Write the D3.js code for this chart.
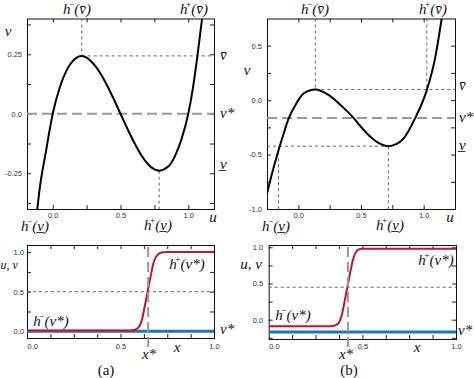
<!DOCTYPE html>
<html><head><meta charset="utf-8">
<script src="https://cdn.jsdelivr.net/npm/d3@7"></script>
<style>
body{margin:0;background:#fff}
svg{display:block}
</style></head>
<body><svg id="c" width="474" height="378"></svg>
<script>
// ---------------- data ----------------
// panel (a) top: nullcline v = f(u)
const aU = [-0.114,-0.1,-0.05,0,0.05,0.1,0.15,0.214,0.25,0.3,0.35,0.4,0.45,0.5,0.55,0.6,0.65,0.7,0.75,0.785,0.85,0.9,0.95,1.0,1.035,1.067,1.102];
const aV = [-0.40,-0.33,-0.158,0,0.107,0.18,0.223,0.243,0.236,0.21,0.171,0.12,0.062,0,-0.062,-0.12,-0.171,-0.21,-0.234,-0.239,-0.223,-0.18,-0.107,0,0.11,0.24,0.40];
// panel (b) top
const bU = [-0.25,-0.21,-0.162,-0.117,-0.077,-0.024,0.043,0.136,0.243,0.349,0.442,0.492,0.588,0.65,0.718,0.78,0.838,0.931,1.025,1.091,1.144];
const bV = [-0.858,-0.674,-0.476,-0.306,-0.168,-0.046,0.062,0.098,0.046,-0.058,-0.165,-0.235,-0.35,-0.40,-0.423,-0.405,-0.355,-0.168,0.092,0.384,0.752];
// panel (a) bottom: u profile and v*
const aProfX = [0,0.55,0.578,0.6,0.615,0.63,0.645,0.66,0.675,0.69,0.705,0.72,0.75,1];
const aProfU = [0.01,0.01,0.02,0.06,0.15,0.32,0.5,0.68,0.85,0.94,0.98,0.995,1.0,1.0];
const aStarX = [0,1], aStarV = [0,0];
// panel (b) bottom
const bProfX = [0,0.33,0.354,0.375,0.39,0.405,0.42,0.435,0.45,0.465,0.48,0.5,1];
const bProfU = [-0.09,-0.09,-0.08,-0.04,0.06,0.25,0.45,0.65,0.83,0.93,0.97,0.98,0.98];
const bStarX = [0,1], bStarV = [-0.17,-0.17];
// characteristic values
const aUMax = 0.214, aVBar = 0.243, aUMin = 0.785, aVUnder = -0.239, aVStar = 0;
const bUMax = 0.136, bVBar = 0.098, bUMin = 0.718, bVUnder = -0.423, bVStar = -0.163, bHmUnder = -0.158, bHpBar = 1.025;
const aXStar = 0.648, aMid = 0.5;
const bXStar = 0.423, bMid = 0.448;
// ticks
const taXT = [0,0.25,0.5,0.75,1], taXL = [0,0.5,1], taXLt = ["0.0","0.5","1.0"];
const taYT = [-0.375,-0.25,-0.125,0,0.125,0.25,0.375], taYL = [-0.25,0,0.25], taYLt = ["-0.25","0.0","0.25"];
const tbXT = [0,0.25,0.5,0.75,1], tbXL = [0,0.5,1], tbXLt = ["0.0","0.5","1.0"];
const tbYT = [-0.75,-0.5,-0.25,0,0.25,0.5], tbYL = [-1,-0.5,0,0.5], tbYLt = ["-1.0","-0.5","0.0","0.5"];
const baXT = [0.125,0.25,0.375,0.5,0.625,0.75,0.875], baXL = [0,0.5,1], baXLt = ["0.0","0.5","1.0"];
const baYT = [0,0.25,0.5,0.75,1], baYL = [0,0.5,1], baYLt = ["0.0","0.5","1.0"];
const bbXT = [0.125,0.25,0.375,0.5,0.625,0.75,0.875], bbXL = [0,0.5,1], bbXLt = ["0.0","0.5","1.0"];
const bbYT = [-0.25,0,0.25,0.5,0.75,1], bbYL = [0,0.5,1], bbYLt = ["0.0","0.5","1.0"];

// ---------------- drawing ----------------
const svg = d3.select("#c");
const RED = "#c41230", BLUE = "#1f74b6", DGREY = "#666";
const SERIF = "'Liberation Serif','DejaVu Serif','Times New Roman',serif";
let clipId = 0;

function panel(o){
  const g = svg.append("g");
  const x = d3.scaleLinear().domain(o.xd).range(o.xr);
  const y = d3.scaleLinear().domain(o.yd).range(o.yr);
  const [x0,x1] = o.xr, [y0,y1] = o.yr;
  const tk = 4;
  const mk = (ax, tr, vals) => {
    const a = g.append("g").attr("transform", tr).call(ax.tickValues(vals).tickSize(-tk).tickFormat(""));
    a.select(".domain").remove();
    a.selectAll("line").attr("stroke","#222");
  };
  mk(d3.axisBottom(x), `translate(0,${y0})`, o.xt);
  mk(d3.axisTop(x), `translate(0,${y1})`, o.xt);
  mk(d3.axisLeft(y), `translate(${x0},0)`, o.yt);
  mk(d3.axisRight(y), `translate(${x1},0)`, o.yt);
  const lab = (ax, tr, vals, texts, pad) => {
    const a = g.append("g").attr("transform", tr)
      .call(ax.tickValues(vals).tickSize(0).tickPadding(pad).tickFormat((d,i)=>texts[i]));
    a.select(".domain").remove();
    a.attr("font-family","'Liberation Sans',Arial,sans-serif").attr("font-size",7.5);
    a.selectAll("text").attr("fill","#333");
    return a;
  };
  const xa = lab(d3.axisBottom(x), `translate(0,${y0})`, o.xl, o.xlt, o.xpad);
  if (o.firstStart) xa.selectAll("text").filter((d,i)=>i===0).attr("text-anchor","start");
  lab(d3.axisLeft(y), `translate(${x0},0)`, o.yl, o.ylt, o.ypad);
  g.append("rect").attr("x",x0+0.5).attr("y",y1+0.5).attr("width",x1-x0).attr("height",y0-y1)
    .attr("fill","none").attr("stroke","#111").attr("stroke-width",1);
  const id = "clip"+(clipId++);
  g.append("clipPath").attr("id",id).append("rect").attr("x",x0).attr("y",y1).attr("width",x1-x0).attr("height",y0-y1);
  const plot = g.append("g").attr("clip-path",`url(#${id})`);
  return {g, plot, x, y};
}

function dash(g, x1, y1, x2, y2, long){
  g.append("line").attr("x1",x1).attr("y1",y1).attr("x2",x2).attr("y2",y2)
    .attr("stroke", long ? "#999" : DGREY)
    .attr("stroke-width", long ? 2 : 1)
    .attr("stroke-dasharray", long ? "10,5" : "3,3");
}

function curve(g, xs, ys, sx, sy, color, w){
  const pts = xs.map((d,i)=>[d, ys[i]]);
  g.append("path").datum(pts)
    .attr("d", d3.line().x(d=>sx(d[0])).y(d=>sy(d[1])).curve(d3.curveMonotoneX))
    .attr("fill","none").attr("stroke",color).attr("stroke-width",w).attr("stroke-linejoin","round");
}

function mlabel(x, y, parts, anchor, size){
  size = size || 15;
  const t = svg.append("text").attr("x",x).attr("y",y)
    .attr("font-family",SERIF).attr("font-style","italic").attr("fill","#111")
    .attr("text-anchor",anchor||"middle").attr("font-size",size);
  parts.forEach(p=>{
    const ts = t.append("tspan").text(p.t);
    if (p.sup) ts.attr("dy",-6).attr("dx",p.dx||0).attr("font-size",size*0.62).attr("font-style","normal");
    if (p.dy) ts.attr("dy",p.dy);
    if (p.up) ts.attr("font-style","normal");
  });
  return t;
}
const VBAR = "v\u0304", VUND = "v\u0332";
function hLab(x, y, sign, arg, anchor){
  return mlabel(x, y, [{t:"h"},{t:sign,sup:1,dx:-1.5},{t:"("+arg+")",dy:6}], anchor);
}

// ---- (a) top ----
{
  const P = panel({xd:[-0.19,1.19], xr:[27,214], yd:[-0.4,0.4], yr:[209,18.5],
    xt:taXT, xl:taXL, xlt:taXLt, yt:taYT, yl:taYL, ylt:taYLt, xpad:4, ypad:5});
  const {plot,x,y} = P;
  dash(plot, x.range()[0], y(aVStar), x.range()[1], y(aVStar), true);
  dash(plot, x(aUMax), y.range()[1], x(aUMax), y(aVBar));
  dash(plot, x(aUMax), y(aVBar), x.range()[1], y(aVBar));
  dash(plot, x(aUMin), y(aVUnder), x(aUMin), y.range()[0]);
  curve(plot, aU, aV, x, y, "#000", 2);
  hLab(77, 14, "\u2212", VBAR);
  hLab(194, 14, "+", VBAR);
  hLab(35, 231, "\u2212", VUND);
  hLab(158, 230, "+", VUND);
  mlabel(8, 36, [{t:"v"}]);
  mlabel(213, 222, [{t:"u"}]);
  mlabel(220, y(aVBar)+4, [{t:VBAR}], "start");
  mlabel(220, y(aVStar)+4, [{t:"v*"}], "start");
  mlabel(220, y(aVUnder)-1.5, [{t:VUND}], "start");
}
// ---- (b) top ----
{
  const P = panel({xd:[-0.25,1.25], xr:[267,455], yd:[-1,0.75], yr:[209,18.5],
    xt:tbXT, xl:tbXL, xlt:tbXLt, yt:tbYT, yl:tbYL, ylt:tbYLt, xpad:4, ypad:5});
  const {plot,x,y} = P;
  dash(plot, x.range()[0], y(bVStar), x.range()[1], y(bVStar), true);
  dash(plot, x(bUMax), y.range()[1], x(bUMax), y(bVBar));
  dash(plot, x(bUMax), y(bVBar), x.range()[1], y(bVBar));
  dash(plot, x(bHpBar), y.range()[1], x(bHpBar), y(bVBar));
  dash(plot, x.range()[0], y(bVUnder), x(bUMin), y(bVUnder));
  dash(plot, x(bHmUnder), y(bVUnder), x(bHmUnder), y.range()[0]);
  dash(plot, x(bUMin), y(bVUnder), x(bUMin), y.range()[0]);
  curve(plot, bU, bV, x, y, "#000", 2);
  hLab(315, 14, "\u2212", VBAR);
  hLab(433, 14, "+", VBAR);
  hLab(276, 231, "\u2212", VUND);
  hLab(390, 230, "+", VUND);
  mlabel(247, 75, [{t:"v"}]);
  mlabel(450, 222, [{t:"u"}]);
  mlabel(459, y(bVBar)+0.5, [{t:VBAR}], "start");
  mlabel(459, y(bVStar)+4, [{t:"v*"}], "start");
  mlabel(459, y(bVUnder)+4, [{t:VUND}], "start");
}
// ---- (a) bottom ----
{
  const P = panel({xd:[0,1], xr:[27,214], yd:[-0.085,1.09], yr:[338,245],
    xt:baXT, xl:baXL, xlt:baXLt, yt:baYT, yl:baYL, ylt:baYLt, xpad:5.5, ypad:3, firstStart:true});
  const {g,plot,x,y} = P;
  dash(plot, x.range()[0], y(aMid), x.range()[1], y(aMid));
  dash(g, x(aXStar), y.range()[1]+2, x(aXStar), 349, true);
  curve(plot, aStarX, aStarV, x, y, BLUE, 3);
  curve(plot, aProfX, aProfU, x, y, RED, 2);
  mlabel(187, 269, [{t:"h"},{t:"+",sup:1,dx:-1.5},{t:"(v*)",dy:6}]);
  mlabel(51, 326, [{t:"h"},{t:"\u2212",sup:1,dx:-1.5},{t:"(v*)",dy:6}]);
  mlabel(220, 334, [{t:"v*"}], "start");
  mlabel(0.5, 269, [{t:"u, v"}], "start", 12);
  mlabel(149, 359, [{t:"x*"}]);
  mlabel(177, 352, [{t:"x"}]);
  mlabel(106, 375, [{t:"(a)",up:1}]);
}
// ---- (b) bottom ----
{
  const P = panel({xd:[0,1], xr:[268.7,456], yd:[-0.267,1.032], yr:[339,245],
    xt:bbXT, xl:bbXL, xlt:bbXLt, yt:bbYT, yl:bbYL, ylt:bbYLt, xpad:5, ypad:5.5, firstStart:true});
  const {g,plot,x,y} = P;
  dash(plot, x.range()[0], y(bMid), x.range()[1], y(bMid));
  dash(g, x(bXStar), y.range()[1]+2, x(bXStar), 349, true);
  curve(plot, bStarX, bStarV, x, y, BLUE, 3);
  curve(plot, bProfX, bProfU, x, y, RED, 2);
  mlabel(436, 265, [{t:"h"},{t:"+",sup:1,dx:-1.5},{t:"(v*)",dy:6}]);
  mlabel(293, 320, [{t:"h"},{t:"\u2212",sup:1,dx:-1.5},{t:"(v*)",dy:6}]);
  mlabel(458, 335, [{t:"v*"}], "start");
  mlabel(262, 269, [{t:"u, v"}], "end");
  mlabel(346, 359, [{t:"x*"}]);
  mlabel(417, 352, [{t:"x"}]);
  mlabel(349, 375, [{t:"(b)",up:1}]);
}
</script></body></html>
